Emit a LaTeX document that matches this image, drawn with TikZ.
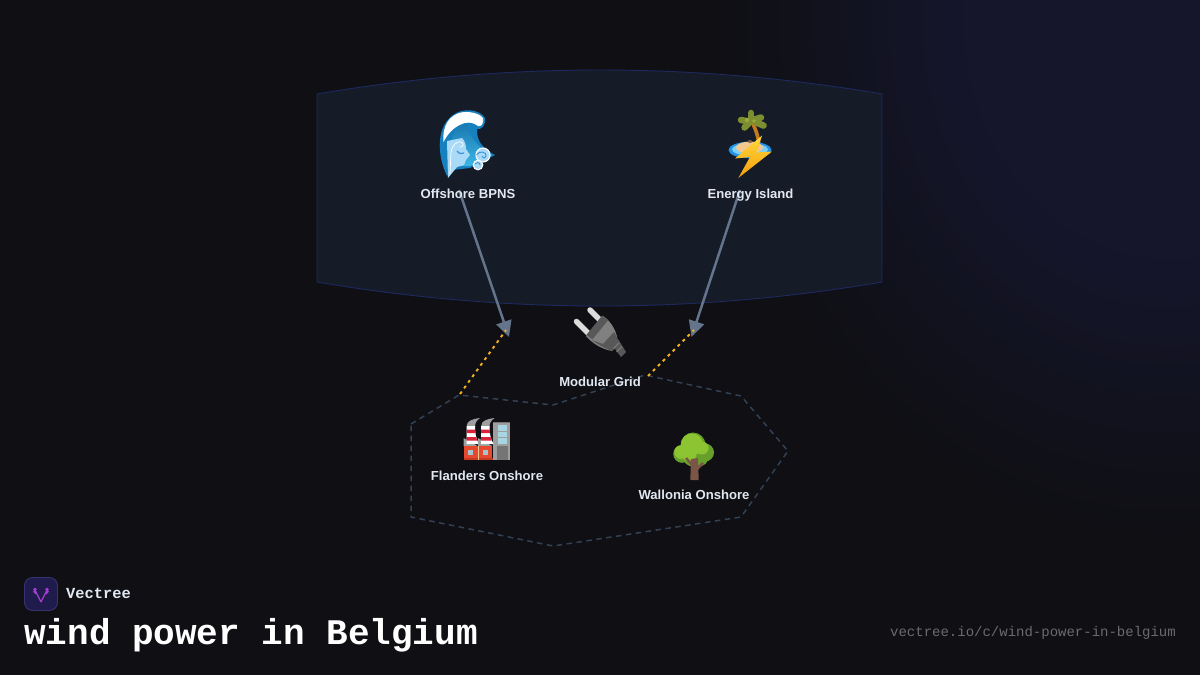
\documentclass[tikz,border=0pt]{standalone}
\usepackage{fontspec}
\setmainfont{Liberation Sans}
\newfontfamily\monofam{Liberation Mono}
\usetikzlibrary{arrows.meta}
\definecolor{bgbase}{HTML}{0F0F14}
\definecolor{bgglow}{HTML}{15162C}
\definecolor{seafill}{HTML}{161B28}
\definecolor{seaedge}{HTML}{1C2A5E}
\definecolor{landedge}{HTML}{334155}
\definecolor{flow}{HTML}{64748B}
\definecolor{amber}{HTML}{F5B21E}
\definecolor{labelc}{HTML}{E2E8F0}
\definecolor{urlc}{HTML}{6B6B6F}
\definecolor{waveedge}{HTML}{1780BE}
\definecolor{wavedeep}{HTML}{1B78B0}
\definecolor{wavelight}{HTML}{3BB7E6}
\definecolor{facec}{HTML}{A9DAF7}
\definecolor{faceeye}{HTML}{3D8FD8}
\definecolor{frond}{HTML}{7C8E2F}
\definecolor{frondlight}{HTML}{9AA83C}
\definecolor{trunk}{HTML}{C67A1E}
\definecolor{isleblue}{HTML}{2293E6}
\definecolor{islelight}{HTML}{7FD0F5}
\definecolor{sand}{HTML}{F2C88E}
\definecolor{boltA}{HTML}{FFD93B}
\definecolor{boltB}{HTML}{F59E0B}
\definecolor{prong}{HTML}{DCDCDC}
\definecolor{plugdark}{HTML}{585858}
\definecolor{plugmid}{HTML}{808080}
\definecolor{brick}{HTML}{E5492F}
\definecolor{brickdark}{HTML}{C63A22}
\definecolor{steel}{HTML}{9E9E9E}
\definecolor{steeldark}{HTML}{757575}
\definecolor{glass}{HTML}{A8D5E2}
\definecolor{stripe}{HTML}{D8233C}
\definecolor{leafA}{HTML}{8DC431}
\definecolor{leafB}{HTML}{66A02A}
\definecolor{bark}{HTML}{7B5548}
\definecolor{logofill}{HTML}{1F1C4D}
\definecolor{logoedge}{HTML}{37336F}
\definecolor{logomark}{HTML}{A33DD0}
\tikzset{
  zone sea/.style={fill=seafill,draw=seaedge,line width=0.9pt},
  zone land/.style={draw=landedge,line width=1.5pt,dash pattern=on 5.5pt off 4.5pt},
  flowline/.style={draw=flow,line width=2.5pt,-{Triangle[length=16pt,width=15.5pt]}},
  amberline/.style={draw=amber,line width=1.9pt,dash pattern=on 3pt off 4pt},
  tag/.style={font=\fontsize{13.1}{15}\selectfont\bfseries,text=labelc,inner sep=0pt,anchor=base},
  frondstroke/.style={draw=frond,line width=6.5pt,line cap=round},
}
\begin{document}
\begin{tikzpicture}[x=1pt,y=-1pt]
\useasboundingbox (0,0) rectangle (1200,675);
\fill[bgbase] (0,0) rectangle (1200,675);
\begin{scope}
\clip (0,0) rectangle (1200,675);
\foreach \i in {0,...,29}{
  \pgfmathsetmacro\p{(\i+1)/30*100}
  \pgfmathsetmacro\rf{1-0.55*\i/29}
  \fill[bgglow!\p!bgbase] (1170,20) ellipse[x radius=440*\rf,y radius=510*\rf];
}
\end{scope}
% zones
\path[zone sea] (317,94) .. controls (505,62) and (695,62) .. (882,94) -- (882,282) .. controls (695,314) and (505,314) .. (317,282) -- cycle;
\path[zone land] (411,424) -- (459,395) -- (553,405) -- (645,375) -- (741,396) -- (788,451) -- (741,517) -- (553,546) -- (411,517) -- cycle;
% connector ends
\coordinate (offshoreOut) at (459,190);
\coordinate (islandOut) at (740,190);
\coordinate (gridInL) at (509,337);
\coordinate (gridInR) at (691.5,337);
\coordinate (flandersOut) at (460,394);
\coordinate (walloniaOut) at (648,376);
\coordinate (gridDotL) at (506,330);
\coordinate (gridDotR) at (694,330);
\draw[flowline] (offshoreOut) -- (gridInL);
\draw[flowline] (islandOut) -- (gridInR);
\draw[amberline] (flandersOut) -- (gridDotL);
\draw[amberline] (walloniaOut) -- (gridDotR);
% wave + wind icon
\fill[waveedge] (447,176) .. controls (437,155) and (435,125) .. (456,113) .. controls (466,108) and (480,110) .. (485,118) .. controls (486,125) and (482,130) .. (477,129) .. controls (476,142) and (485,150) .. (495,155) -- (470,168) -- (452,170) -- cycle;
\shade[top color=wavedeep,bottom color=wavelight] (450,150) .. controls (450,135) and (458,126) .. (466,124) .. controls (470,138) and (480,149) .. (492,155) -- (470,166) -- (452,166) -- cycle;
\fill[white] (443.5,142) .. controls (442,125) and (450,115) .. (461,112.5) .. controls (469,111) and (479,113) .. (483,118) .. controls (484,124) and (481,127) .. (478,126) .. controls (474,123) and (470,122) .. (465,123) .. controls (457,125) and (449,131) .. (443.5,142) -- cycle;
\fill[facec] (447,141) -- (462,138) .. controls (465,141) and (466,145) .. (466,149) -- (470,155) -- (466,160) -- (464,165) -- (457,167) -- (448,178) -- cycle;
\draw[white,line width=0.7pt] (450,174) -- (451,152) .. controls (452,145) and (457,141) .. (461,142) .. controls (464,143) and (464,147) .. (460,147);
\draw[faceeye,line width=1.2pt] (457,151) .. controls (459,154) and (462,154) .. (464,153);
\fill[facec,draw=white,line width=1.1pt] (483,155) circle[radius=7];
\fill[facec,draw=white,line width=1.1pt] (478,165) circle[radius=4.8];
\draw[faceeye,line width=0.9pt] (476.5,155) .. controls (479,150) and (487,152) .. (486,156) .. controls (485,159) and (482,158) .. (482,156);
\draw[faceeye,line width=0.8pt] (475,164) .. controls (476,162) and (480,162) .. (480,165);
% palm + bolt icon
\draw[trunk,line width=3.6pt] (752,122) .. controls (756,130) and (758,136) .. (759,144);
\fill[isleblue] (750,150) ellipse[x radius=21.5,y radius=8.3];
\fill[islelight] (750,149.5) ellipse[x radius=18,y radius=6];
\fill[sand] (749.5,147.5) ellipse[x radius=13.5,y radius=5.8];
\fill[black!50!sand] (750,141.5) ellipse[x radius=2.5,y radius=1.4];
\draw[frondstroke] (749,121.5) -- (741,120);
\draw[frondstroke] (751,120) -- (751,113);
\draw[frondstroke] (753,120) -- (761,117.5);
\draw[frondstroke] (755,122) -- (763.5,125.5);
\draw[frondstroke] (749,123) -- (744.5,127.5);
\fill[frondlight] (747,120) circle[radius=2.2] (754,121) circle[radius=1.8];
\shade[top color=boltA,bottom color=boltB] (762,135.5) -- (735,158.5) -- (750,157) -- (738.3,178) -- (772,151.5) -- (756.5,152.5) -- cycle;
% plug icon
\draw[prong,line width=5.5pt,line cap=round] (590,310) -- (601,321);
\draw[prong,line width=5.5pt,line cap=round] (576.5,321.5) -- (588,333);
\fill[plugmid] (603,316) .. controls (612,322) and (618,333) .. (618,345) -- (612,351) .. controls (601,349) and (592,343) .. (586,336) -- cycle;
\fill[plugdark] (592,340) .. controls (600,346) and (607,349) .. (612,351) -- (618,345) .. controls (618,340) and (617,336) .. (614,332) -- (603,344) -- cycle;
\draw[plugdark,line width=7.5pt] (605,318) -- (589.5,337);
\fill[plugdark] (612,345) -- (618,339) -- (626,352) -- (621,357) -- cycle;
\draw[plugmid,line width=1pt] (613.5,348.5) -- (619,343) (616.5,352) -- (622,346.5);
% factory icon
\fill[steel] (492.5,421.5) rectangle (510,460);
\fill[steeldark] (492.5,421.5) rectangle (510,423);
\fill[glass] (497.5,424.5) rectangle (506.5,443.5);
\draw[steel,line width=0.9pt] (497.5,431) -- (506.5,431) (497.5,437.2) -- (506.5,437.2);
\fill[steeldark] (496.5,445.5) rectangle (507.5,460);
\foreach \sx in {0,14.5}{
  \fill[steel] (463.5+\sx,438) -- (477.5+\sx,446) -- (463.5+\sx,446) -- cycle;
  \fill[steel] (466.7+\sx,426) .. controls (466.7+\sx,421) and (472+\sx,419) .. (480+\sx,418) .. controls (476.5+\sx,420.5) and (475+\sx,423) .. (475+\sx,427) -- cycle;
  \fill[white] (466.7+\sx,426) -- (475+\sx,426) .. controls (475+\sx,433) and (476+\sx,439) .. (479+\sx,444) -- (466.7+\sx,444) -- cycle;
  \fill[stripe] (466.7+\sx,429.5) -- (475.1+\sx,429.5) -- (475.4+\sx,433) -- (466.7+\sx,433) -- cycle;
  \fill[stripe] (466.7+\sx,437) -- (476+\sx,437) -- (477.2+\sx,440.5) -- (466.7+\sx,440.5) -- cycle;
  \fill[brick] (463.5+\sx,446) rectangle (477.5+\sx,460);
  \fill[glass!70!steel] (468.3+\sx,450) rectangle (473.3+\sx,455);
}
\fill[brickdark] (463.5,457.5) rectangle (492.5,460);
\draw[sand,line width=0.7pt] (478,446) -- (478,460);
% tree icon
\fill[leafB] (682,454) circle[radius=8.8] (705,452.5) circle[radius=9] (693,445) circle[radius=12.5] (693,456) circle[radius=10.5] (700,458) circle[radius=8];
\fill[leafA] (692,444.5) circle[radius=11] (681,452) circle[radius=6.8] (702,448) circle[radius=6.5] (689,454) circle[radius=7.5];
\draw[bark,line width=2.5pt] (686,458) -- (693,466) (703,463) -- (697,469);
\fill[bark] (691,459) -- (698,458) -- (698.7,480) -- (690.3,480) -- cycle;
% labels
\node[tag] (offshore) at (468,198.5) {Offshore BPNS};
\node[tag] (island) at (750.5,198.5) {Energy Island};
\node[tag] (grid) at (600,386.5) {Modular Grid};
\node[tag] (flanders) at (487,480.5) {Flanders Onshore};
\node[tag] (wallonia) at (694,499.5) {Wallonia Onshore};
% footer
\draw[logoedge,fill=logofill,line width=0.9pt,rounded corners=8pt] (24.5,577.5) rectangle (57.5,610.5);
\draw[logomark,line width=1.3pt] (41,602) -- (35,590) (41,602) -- (47,590) (36,594) -- (33.5,591) (46,594) -- (48.5,591);
\fill[logomark] (35,589.5) circle[radius=1.8] (47,589.5) circle[radius=1.8];
\node[font=\monofam\bfseries\fontsize{15.4}{18}\selectfont,text=labelc,anchor=base west,inner sep=0pt] (brand) at (66,598) {Vectree};
\node[font=\monofam\bfseries\fontsize{36}{40}\selectfont,text=white,anchor=base west,inner sep=0pt] (title) at (24,644) {wind power in Belgium};
\node[font=\monofam\fontsize{14}{16}\selectfont,text=urlc,anchor=base east,inner sep=0pt] (url) at (1176,636.5) {vectree.io/c/wind-power-in-belgium};
\end{tikzpicture}
\end{document}
